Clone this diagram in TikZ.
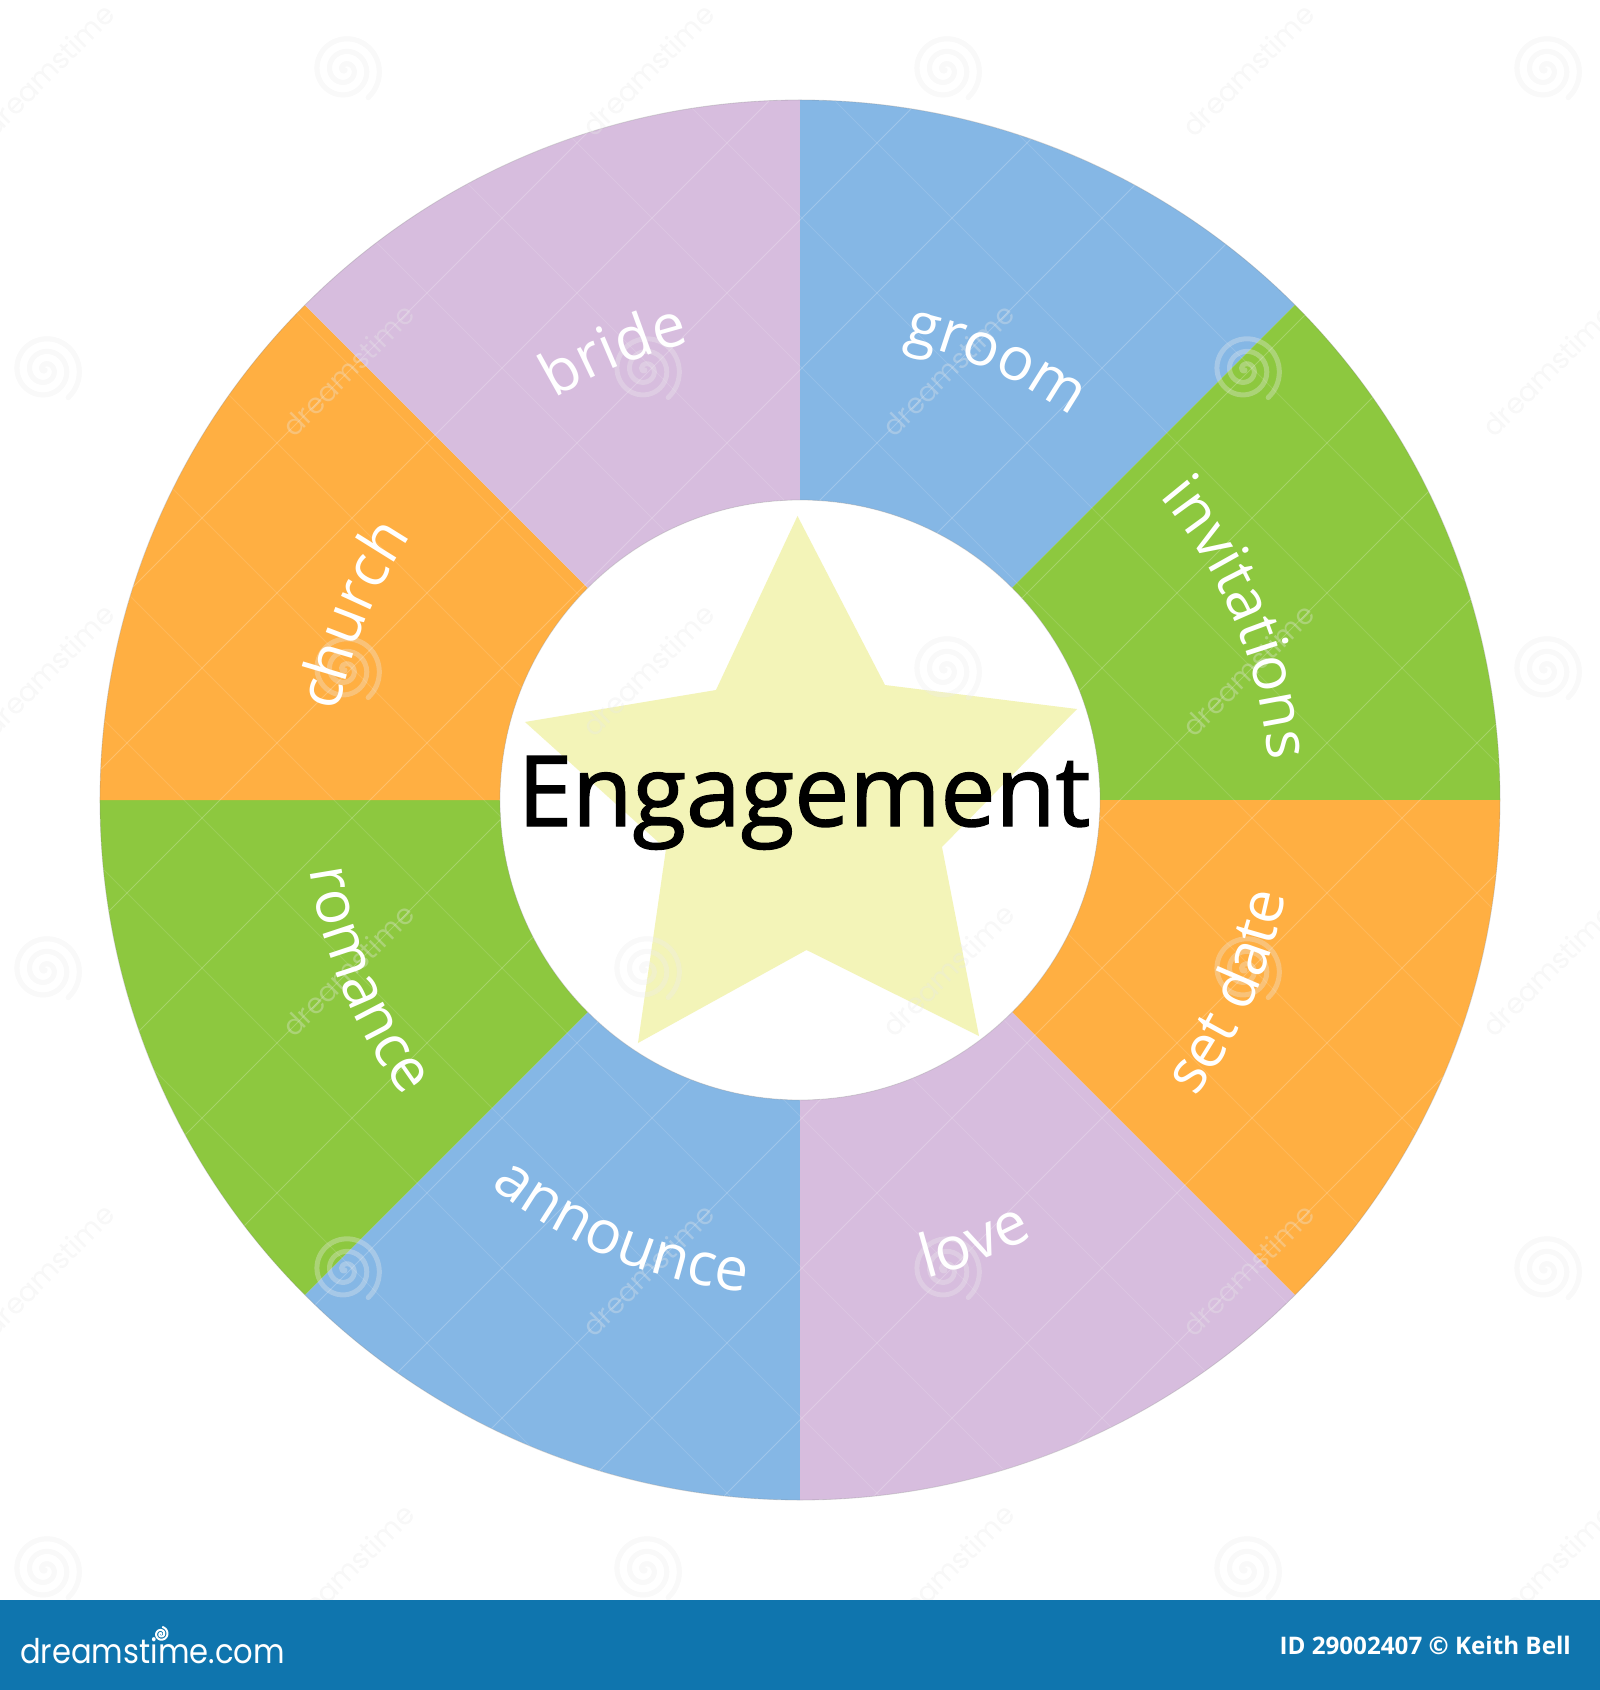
\documentclass[tikz,border=0pt]{standalone}
\usepackage{fontspec}
\setmainfont{Open Sans}
\newfontfamily\logofont{Poppins}
\newfontfamily\titlefont[FakeBold=1.5]{Open Sans}
\usetikzlibrary{decorations.text}
\definecolor{segpurple}{HTML}{D7BDDE}
\definecolor{segblue}{HTML}{85B7E5}
\definecolor{seggreen}{HTML}{8DC83F}
\definecolor{segorange}{HTML}{FFAF42}
\definecolor{starfill}{HTML}{F3F4B8}
\definecolor{banner}{HTML}{0F75AE}
\newcommand{\lbl}{\fontsize{60}{60}\selectfont\color{white}}
\newcommand{\sector}[3]{\fill[#3] (0,0) -- (#1:700pt) arc[start angle=#1,end angle=#2,radius=700pt] -- cycle;}
\newcommand{\cwlabel}[3]{\path[decorate,decoration={text along path,text align=center,text={|\lbl|#3}}] (#1+35:#2 pt) arc[start angle=#1+35,end angle=#1-35,radius=#2 pt];}
\newcommand{\ccwlabel}[3]{\path[decorate,decoration={text along path,text align=center,text={|\lbl|#3}}] (#1-35:#2 pt) arc[start angle=#1-35,end angle=#1+35,radius=#2 pt];}
\tikzset{
  wmgrey/.style={draw=black,draw opacity=0.03,line width=5pt,line cap=round},
  wmwhite/.style={draw=white,draw opacity=0.3,line width=5pt,line cap=round},
  wmtext/.style={font=\logofont\fontsize{28}{28}\selectfont,rotate=45,inner sep=0pt},
  wmline/.style={draw=white,draw opacity=0.22,line width=1pt},
  rimline/.style={draw=gray,draw opacity=0.3,line width=0.8pt},
}
\begin{document}
\begin{tikzpicture}[x=1pt,y=1pt]
\useasboundingbox (-800,-890) rectangle (800,800);
\fill[white] (-800,-890) rectangle (800,800);
\sector{90}{45}{segblue}
\sector{45}{0}{seggreen}
\sector{0}{-45}{segorange}
\sector{-45}{-90}{segpurple}
\sector{-90}{-135}{segblue}
\sector{-135}{-180}{seggreen}
\sector{180}{135}{segorange}
\sector{135}{90}{segpurple}
% faint lattice over the ring
\begin{scope}
  \clip (0,0) circle[radius=700pt];
  \foreach \c in {-1030,-880,...,1070}{
    \draw[wmline] (-800,-800-\c) -- (800,800-\c);
  }
  \foreach \d in {-916,-766,...,1034}{
    \draw[wmline,draw opacity=0.12] (-800,\d+800) -- (800,\d-800);
  }
\end{scope}
\draw[rimline] (0,0) circle[radius=700pt];
\fill[white] (0,0) circle[radius=300pt];
\draw[rimline] (0,0) circle[radius=300pt];
\fill[starfill] (-2.5,284) -- (85,115) -- (277,91) -- (142,-47) -- (179,-236) -- (6.5,-150) -- (-162,-243) -- (-134,-49) -- (-275,78) -- (-84,110) -- cycle;
% watermark spirals
\foreach \px/\py in {348/70,948/70,1548/70,48/370,648/370,1248/370,348/670,948/670,1548/670,48/970,648/970,1248/970,348/1270,948/1270,1548/1270,48/1570,648/1570,1248/1570}{
  \begin{scope}[shift={(\px-803,800-\py)}]
    \draw[wmgrey] plot[domain=0:1030,samples=90,smooth] ({980-\x}:{0.035*\x});
    \draw[wmwhite] plot[domain=0:1030,samples=90,smooth] ({980-\x}:{0.035*\x});
  \end{scope}
}
% watermark words
\foreach \px/\py [count=\i] in {48/70,648/70,1248/70,348/370,948/370,1548/370,48/670,648/670,1248/670,348/970,948/970,1548/970,48/1270,648/1270,1248/1270,348/1570,948/1570,1548/1570}{
  \node[wmtext,text=black,text opacity=0.04] (wma\i) at (\px-800,800-\py) {dreamstime};
  \node[wmtext,text=white,text opacity=0.3] (wmb\i) at (\px-800,800-\py) {dreamstime};
}
% labels
\cwlabel{66}{470}{groom}
\cwlabel{22.5}{470}{invitations}
\ccwlabel{-24}{495}{set date}
\ccwlabel{-68.5}{495}{love}
\ccwlabel{-112.5}{495}{announce}
\ccwlabel{-157.5}{495}{romance}
\cwlabel{157.5}{470}{church}
\cwlabel{112.5}{470}{bride}
\node[anchor=base,inner sep=0pt,font=\titlefont\fontsize{98}{98}\selectfont,text=black] (title) at (4,-26) {Engagement};
% banner
\fill[banner] (-800,-890) rectangle (800,-800);
\node[anchor=base west,inner sep=0pt,text=white,xscale=0.9,font=\logofont\fontsize{34}{34}\selectfont] (logo) at (-780,-863) {dreamstime.com};
\begin{scope}[shift={(-639,-834)}]
  \draw[white,line width=2pt] plot[domain=0:800,samples=50,smooth] ({\x}:{0.009*\x});
\end{scope}
\node[anchor=base east,inner sep=0pt,text=white,font=\bfseries\fontsize{24.2}{24.2}\selectfont] (credit) at (771,-854) {ID 29002407 © Keith Bell};
\end{tikzpicture}
\end{document}
